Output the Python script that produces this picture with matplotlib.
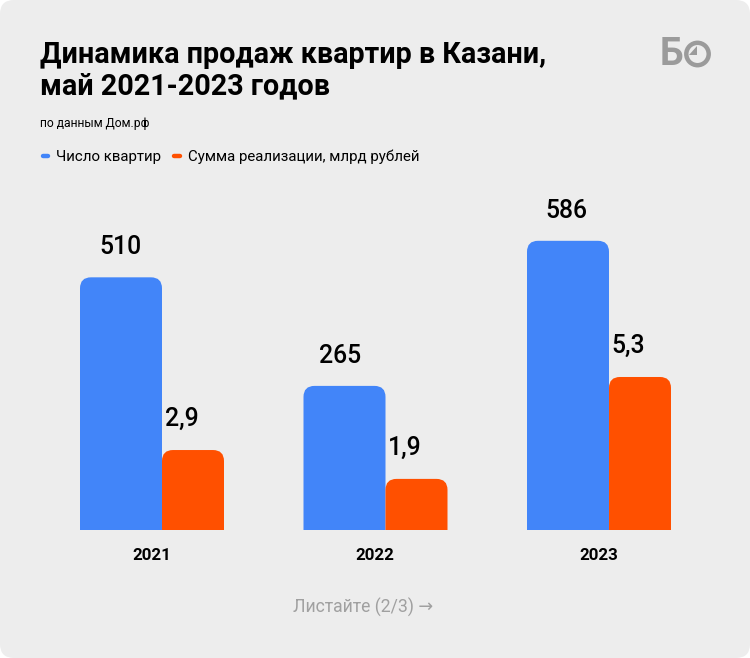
import matplotlib
matplotlib.use("Agg")
import matplotlib.pyplot as plt
from matplotlib.lines import Line2D
from matplotlib.patches import Circle, FancyBboxPatch, PathPatch, Polygon
from matplotlib.path import Path

plt.rcParams['font.family'] = ['Roboto', 'DejaVu Sans']

W, H = 750, 658

years = ['2021', '2022', '2023']
flats = [510, 265, 586]
sums = ['2,9', '1,9', '5,3']
# heights, the 2022 bar is not to scale with its label
flats_height = [512, 292, 586]
sums_height = [2.77, 1.77, 5.30]

BLUE = '#4285F9'
ORANGE = '#FF5000'
BG = '#EDEDED'
GREY = '#A0A0A0'
LOGO = '#9B9B9B'

def rounded_top(ax, x0, x1, h, r_px, color):
    # bar with rounded upper corners, radius given in pixels
    p0 = ax.transData.transform((0, 0))
    p1 = ax.transData.transform((1, 1))
    rx = r_px / (p1[0] - p0[0])
    ry = r_px / (p1[1] - p0[1])
    verts = [(x0, 0), (x0, h - ry), (x0, h), (x0 + rx, h), (x1 - rx, h),
             (x1, h), (x1, h - ry), (x1, 0), (x0, 0)]
    codes = [Path.MOVETO, Path.LINETO, Path.CURVE3, Path.CURVE3, Path.LINETO,
             Path.CURVE3, Path.CURVE3, Path.LINETO, Path.CLOSEPOLY]
    ax.add_patch(PathPatch(Path(verts, codes), fc=color, ec='none'))

fig = plt.figure(figsize=(W / 100, H / 100), dpi=100, facecolor='white')

# background layer in pixel coordinates
bg = fig.add_axes([0, 0, 1, 1])
bg.set_xlim(0, W)
bg.set_ylim(H, 0)
bg.axis('off')
bg.add_patch(FancyBboxPatch((10, 10), W - 20, H - 20, boxstyle='round,pad=10,rounding_size=14',
                            fc=BG, ec='none'))

bg.text(40, 55, 'Динамика продаж квартир в Казани,', fontsize=20.7, fontweight='bold',
        color='black', va='center', ha='left')
bg.text(40, 86, 'май 2021-2023 годов', fontsize=20.7, fontweight='bold',
        color='black', va='center', ha='left')
bg.text(40, 124, 'по данным Дом.рф', fontsize=8.7, color='black', va='center', ha='left')
bg.text(363, 607, 'Листайте (2/3) →', fontsize=12.7, color=GREY, va='center', ha='center')

# logo
bg.text(660, 54.5, 'Б', fontsize=27, fontweight='bold', color=LOGO, va='center', ha='left')
bg.add_patch(Circle((697.5, 54), 11.2, fc='none', ec=LOGO, lw=3.2))
bg.add_patch(Polygon([(696.8, 46), (696.8, 55), (688.5, 55)], fc=LOGO, ec='none'))

# chart, baseline at y=530 and top at y=180 in pixels
left, right, top, base = 40, 710, 180, 530
ax = fig.add_axes([left / W, 1 - base / H, (right - left) / W, (base - top) / H])
ax.patch.set_alpha(0)
step = 223.5
ax.set_xlim((left - 151.5) / step, (right - 151.5) / step)
ax.set_ylim(0, (base - top) / 0.4935)
ax2 = ax.twinx()
ax2.patch.set_alpha(0)
ax2.set_ylim(0, (base - top) / 28.87)

blue_w = 82 / step
orange_w = 62 / step
label_nudge = [-1, -4, -1.5]  # px, labels are not quite centred in the original
for i in range(len(years)):
    bx0 = i - 71.5 / step
    bx1 = bx0 + blue_w
    rounded_top(ax, bx0, bx1, flats_height[i], 11, BLUE)
    ax.text((bx0 + bx1) / 2 + label_nudge[i] / step, flats_height[i] + 61, str(flats[i]), fontsize=17.8,
            color='black', ha='center', va='center', fontweight='medium')
    rounded_top(ax2, bx1, bx1 + orange_w, sums_height[i], 11, ORANGE)
    ax2.text(bx1 + orange_w / 2 - 11.5 / step, sums_height[i] + 1.08, sums[i], fontsize=17.8,
             color='black', ha='center', va='center', fontweight='medium')

ax.set_xticks(range(len(years)))
ax.set_xticklabels(years, fontsize=12.2, fontweight='bold', color='black')
ax.tick_params(axis='x', length=0, pad=13)
ax.set_yticks([])
ax2.set_yticks([])
for a in (ax, ax2):
    for s in a.spines.values():
        s.set_visible(False)

handles = [Line2D([], [], color=BLUE, lw=3.2, solid_capstyle='round'),
           Line2D([], [], color=ORANGE, lw=3.2, solid_capstyle='round')]
fig.legend(handles, ['Число квартир', 'Сумма реализации, млрд рублей'], ncol=2, frameon=False,
           loc='center left', bbox_to_anchor=(29 / W, 1 - 157 / H), fontsize=10.8,
           handlelength=0.37, handletextpad=0.55, columnspacing=0.85, labelcolor='black')

fig.savefig('out.png', dpi=100)
